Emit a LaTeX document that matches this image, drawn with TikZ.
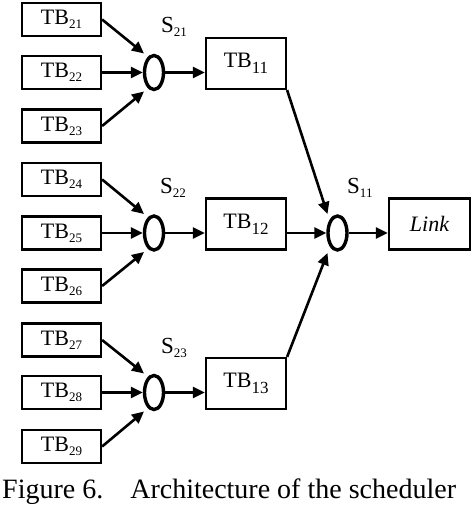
\documentclass[tikz,border=0pt]{standalone}
\usepackage{fontspec}
\setmainfont{Liberation Serif}
\usetikzlibrary{shapes.geometric,arrows.meta,calc}
\newcommand{\smallsub}[1]{\raisebox{-4pt}{\fontsize{13}{13}\selectfont #1}}
\newcommand{\bigsub}[1]{\raisebox{-6pt}{\fontsize{17}{17}\selectfont #1}}
\begin{document}
\begin{tikzpicture}[x=1pt,y=-1pt,
  inbox/.style={draw, line width=2.2pt, minimum width=79pt, minimum height=33pt, inner sep=0pt, font=\fontsize{22}{24}\selectfont},
  outbox/.style={draw, line width=2.2pt, minimum width=80pt, minimum height=51pt, inner sep=0pt, font=\fontsize{22}{24}\selectfont},
  sw/.style={draw, ellipse, line width=3.4pt, minimum width=19pt, minimum height=34pt, inner sep=0pt},
  slabel/.style={anchor=base west, inner sep=0pt, font=\fontsize{23}{24}\selectfont},
  arr/.style={line width=2.6pt, -{Triangle[length=12pt,width=11pt]}}]
\useasboundingbox (0,0) rectangle (474,514);
% input buffers
\node[inbox] (tb21) at (61.5,19.5) {TB\smallsub{21}};
\node[inbox] (tb22) at (61.5,72.5) {TB\smallsub{22}};
\node[inbox] (tb23) at (61.5,126) {TB\smallsub{23}};
\node[inbox] (tb24) at (61.5,179.5) {TB\smallsub{24}};
\node[inbox] (tb25) at (61.5,233) {TB\smallsub{25}};
\node[inbox] (tb26) at (61.5,286) {TB\smallsub{26}};
\node[inbox] (tb27) at (61.5,340) {TB\smallsub{27}};
\node[inbox] (tb28) at (61.5,392.5) {TB\smallsub{28}};
\node[inbox] (tb29) at (61.5,446.5) {TB\smallsub{29}};
% schedulers
\node[sw] (s21) at (154,72.5) {};
\node[sw] (s22) at (154,233) {};
\node[sw] (s23) at (154,392.5) {};
\node[sw] (s11) at (337.5,233) {};
\node[slabel] (l21) at (161,32) {S\smallsub{21}};
\node[slabel] (l22) at (160,193) {S\smallsub{22}};
\node[slabel] (l23) at (161,353) {S\smallsub{23}};
\node[slabel] (l11) at (347,193) {S\smallsub{11}};
% second level buffers
\node[outbox] (tb11) at (246,63.5) {TB\bigsub{11}};
\node[outbox] (tb12) at (246,224) {TB\bigsub{12}};
\node[outbox] (tb13) at (246,383.5) {TB\bigsub{13}};
\node[outbox, minimum width=81pt] (link) at (429.5,224) {\itshape Link};
% arrows into S21
\draw[arr] (tb21.east) -- ($(s21)+(-10,-19)$);
\draw[arr] (tb22.east) -- (s21.west);
\draw[arr] (tb23.east) -- ($(s21)+(-10,19)$);
% arrows into S22
\draw[arr] (tb24.east) -- ($(s22)+(-10,-19)$);
\draw[arr] (tb25.east) -- (s22.west);
\draw[arr] (tb26.east) -- ($(s22)+(-10,19)$);
% arrows into S23
\draw[arr] (tb27.east) -- ($(s23)+(-10,-19)$);
\draw[arr] (tb28.east) -- (s23.west);
\draw[arr] (tb29.east) -- ($(s23)+(-10,19)$);
% S2x to TB1x
\draw[arr] (s21.east) -- (s21.east -| tb11.west);
\draw[arr] (s22.east) -- (s22.east -| tb12.west);
\draw[arr] (s23.east) -- (s23.east -| tb13.west);
% into S11
\draw[arr] (tb11.south east) -- ($(s11)+(-10,-19)$);
\draw[arr] (s11.west -| tb12.east) -- (s11.west);
\draw[arr] (tb13.north east) -- ($(s11)+(-10,20)$);
\draw[arr] (s11.east) -- (s11.east -| link.west);
% caption
\node[anchor=base west, inner sep=0pt, font=\fontsize{28}{30}\selectfont] (cap) at (2,498) {Figure 6.\hspace{27pt}Architecture of the scheduler};
\end{tikzpicture}
\end{document}
